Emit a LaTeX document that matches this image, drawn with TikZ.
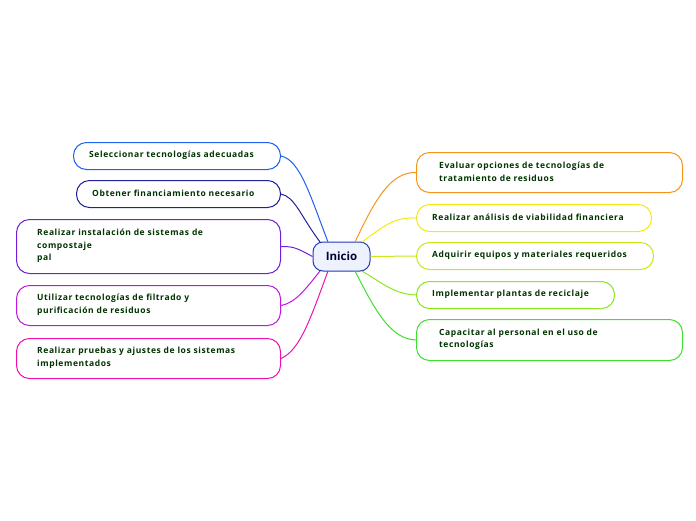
\documentclass[tikz,border=0pt]{standalone}
\usepackage{fontspec}
\setmainfont{Open Sans}
\newfontfamily\lsfont[LetterSpace=7]{Open Sans}
\begin{document}
\begin{tikzpicture}[x=1pt,y=-1pt,
  box/.style={draw=#1,line width=1pt,rounded corners=13pt,fill=white,anchor=north west,inner sep=0pt},
  lab/.style={anchor=west,font=\lsfont\fontsize{8.5}{12.5}\selectfont\bfseries,align=left,text=black!80!green,inner sep=0pt},
  con/.style={draw=#1,line width=1pt}]
\useasboundingbox (0,0) rectangle (696,520);
\definecolor{cO}{HTML}{F7941D}\definecolor{cY}{HTML}{F0EC10}\definecolor{cYG}{HTML}{C8E81A}
\definecolor{cG1}{HTML}{8CE81A}\definecolor{cG2}{HTML}{40E030}
\definecolor{cB}{HTML}{2060F0}\definecolor{cN}{HTML}{20209A}\definecolor{cP}{HTML}{7020D8}
\definecolor{cM}{HTML}{C018E0}\definecolor{cK}{HTML}{F010B0}
% right
\node[box=cO,minimum width=266,minimum height=40] (r1) at (416,152) {};
\node[lab] (t1) at (439,172) {Evaluar opciones de tecnologías de\\tratamiento de residuos};
\node[box=cY,minimum width=235,minimum height=27] (r2) at (416,204) {};
\node[lab] (t2) at (432,217.5) {Realizar análisis de viabilidad financiera};
\node[box=cYG,minimum width=237,minimum height=27] (r3) at (416,242) {};
\node[lab] (t3) at (432,255.5) {Adquirir equipos y materiales requeridos};
\node[box=cG1,minimum width=198,minimum height=27] (r4) at (416,281) {};
\node[lab] (t4) at (432,294.5) {Implementar plantas de reciclaje};
\node[box=cG2,minimum width=266,minimum height=41] (r5) at (416,319) {};
\node[lab] (t5) at (439,339.5) {Capacitar al personal en el uso de\\tecnologías};
% left
\node[box=cB,minimum width=207,minimum height=27] (l1) at (73,142) {};
\node[lab] (u1) at (89,155.5) {Seleccionar tecnologías adecuadas};
\node[box=cN,minimum width=204,minimum height=27] (l2) at (76,180) {};
\node[lab] (u2) at (92,193.5) {Obtener financiamiento necesario};
\node[box=cP,minimum width=264,minimum height=54] (l3) at (16,219) {};
\node[lab] (u3) at (37,246) {Realizar instalación de sistemas de\\compostaje\\pal};
\node[box=cM,minimum width=264,minimum height=40] (l4) at (16,285) {};
\node[lab] (u4) at (37,305) {Utilizar tecnologías de filtrado y\\purificación de residuos};
\node[box=cK,minimum width=264,minimum height=40] (l5) at (16,338) {};
\node[lab] (u5) at (37,358) {Realizar pruebas y ajustes de los sistemas\\implementados};
% center
\node[draw=cN!60!cB,line width=1pt,fill=cB!8,rounded corners=10pt,minimum width=57,minimum height=29,
  font=\fontsize{11.5}{13}\selectfont\bfseries,text=black!80!blue] (c) at (341.5,256.5) {Inicio};
% connectors
\draw[con=cO] (355,242) .. controls (375,200) and (390,172) .. (r1.west);
\draw[con=cY] (362,242) .. controls (385,225) and (395,217) .. (r2.west);
\draw[con=cYG] (c.east) -- (r3.west);
\draw[con=cG1] (362,271) .. controls (385,285) and (395,294) .. (r4.west);
\draw[con=cG2] (355,271) .. controls (375,310) and (390,339) .. (r5.west);
\draw[con=cB] (328,242) .. controls (310,195) and (300,160) .. (l1.east);
\draw[con=cN] (320,242) .. controls (300,215) and (295,197) .. (l2.east);
\draw[con=cP] (c.west) .. controls (300,250) and (295,246) .. (l3.east);
\draw[con=cM] (320,271) .. controls (305,290) and (295,303) .. (l4.east);
\draw[con=cK] (328,271) .. controls (310,320) and (300,350) .. (l5.east);
\end{tikzpicture}
\end{document}
